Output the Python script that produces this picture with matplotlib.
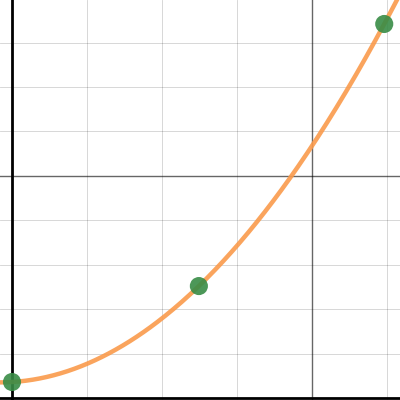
import numpy as np
import matplotlib
matplotlib.use("Agg")
import matplotlib.pyplot as plt

# data points
pts_x = [0.0, 2.49, 4.96]
pts_y = [0.36, 2.52, 8.42]

fig = plt.figure(figsize=(4, 4), dpi=100)
ax = fig.add_axes([0, 0, 1, 1])
ax.set_xlim(-0.16, 5.17)
ax.set_ylim(-0.045, 8.96)

for gx in np.arange(1, 6):
    ax.axvline(gx, color="#000000", lw=1.0 if gx == 4 else 0.6,
               alpha=0.6 if gx == 4 else 0.18, zorder=0)
for gy in np.arange(1, 10):
    ax.axhline(gy, color="#000000", lw=1.0 if gy == 5 else 0.6,
               alpha=0.6 if gy == 5 else 0.18, zorder=0)
ax.axvline(0, color="black", lw=2, zorder=1)
ax.axhline(0, color="black", lw=2, zorder=1)

coef = np.polyfit(pts_x, pts_y, 2)
xs = np.linspace(-0.2, 5.3, 300)
ax.plot(xs, np.polyval(coef, xs), color="#fa9a4b", lw=3.2, alpha=0.9, zorder=2)
ax.scatter(pts_x, pts_y, s=170, color="#388c46", alpha=0.9, zorder=3, edgecolors="none")

ax.set_xticks([])
ax.set_yticks([])
for s in ax.spines.values():
    s.set_visible(False)
fig.savefig("out.png", dpi=100)
